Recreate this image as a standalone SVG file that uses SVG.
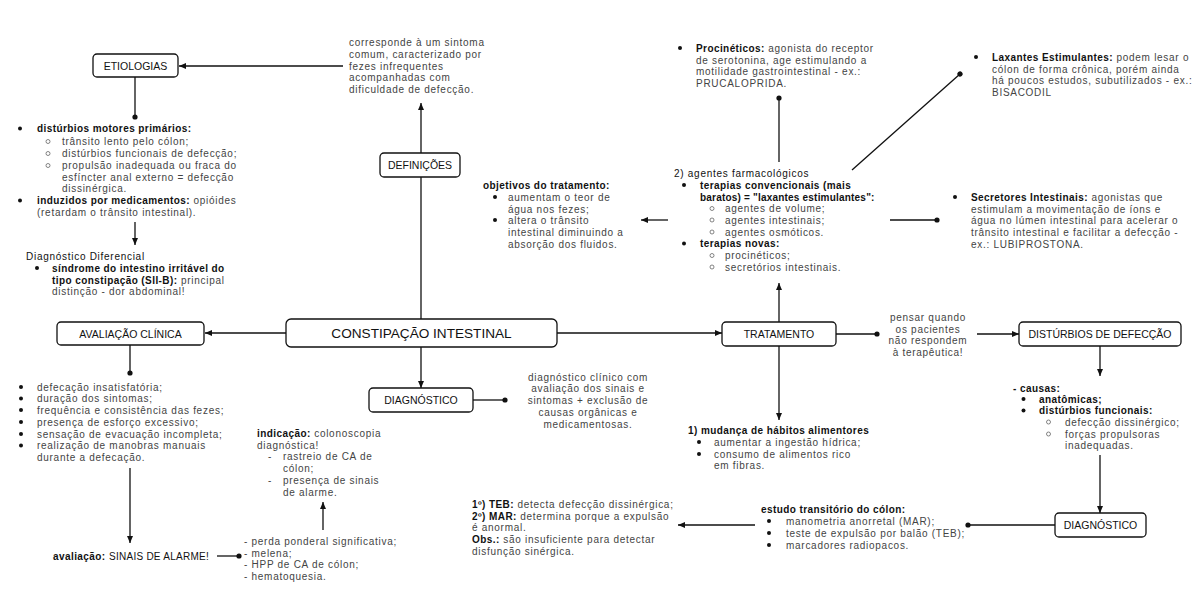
<svg xmlns="http://www.w3.org/2000/svg" width="1200" height="600" viewBox="0 0 1200 600">
<defs>
<style>
.t{font-family:"Liberation Sans",Arial,sans-serif;font-size:10px;letter-spacing:0.72px;fill:#444}
.b{font-weight:bold;letter-spacing:0.42px;fill:#111}
.m{fill:#111}
.cap{letter-spacing:0.25px}
.c{text-anchor:middle}
.bx{fill:#fff;stroke:#111;stroke-width:1.3}
.bl{font-family:"Liberation Sans",Arial,sans-serif;font-size:10.5px;fill:#111;text-anchor:middle}
.big{font-size:13.6px}
.ln{fill:none;stroke:#111;stroke-width:1.3}
.dt{fill:#111}
.oc{fill:none;stroke:#666;stroke-width:0.8}
</style>
<marker id="ar" viewBox="0 0 7 6" refX="7" refY="3" markerWidth="7" markerHeight="6" markerUnits="userSpaceOnUse" orient="auto"><path d="M0,0 L7,3 L0,6 z" fill="#111"/></marker>
<marker id="dot" viewBox="0 0 6 6" refX="3" refY="3" markerWidth="6" markerHeight="6" markerUnits="userSpaceOnUse" orient="auto"><circle cx="3" cy="3" r="2.6" fill="#111"/></marker>
</defs>
<rect width="1200" height="600" fill="#fff"/>

<g id="connectors">
<path class="ln" d="M343,66 H179" marker-end="url(#ar)"/>
<path class="ln" d="M135,77 V117" marker-end="url(#dot)"/>
<path class="ln" d="M135,222 V245" marker-end="url(#ar)"/>
<path class="ln" d="M286,333 H205" marker-end="url(#ar)"/>
<path class="ln" d="M130,345 V373" marker-end="url(#dot)"/>
<path class="ln" d="M130,468 V543" marker-end="url(#ar)"/>
<path class="ln" d="M217,556 H239" marker-end="url(#dot)"/>
<path class="ln" d="M323,530 V502" marker-end="url(#ar)"/>
<path class="ln" d="M421,319 V177"/>
<path class="ln" d="M421,153 V103" marker-end="url(#ar)"/>
<path class="ln" d="M421,347 V388" marker-end="url(#ar)"/>
<path class="ln" d="M473,400 H505" marker-end="url(#dot)"/>
<path class="ln" d="M557,333 H722" marker-end="url(#ar)"/>
<path class="ln" d="M836,334 H877" marker-end="url(#dot)"/>
<path class="ln" d="M977,334 H1019" marker-end="url(#ar)"/>
<path class="ln" d="M1100,346 V376" marker-end="url(#ar)"/>
<path class="ln" d="M1100,455 V513" marker-end="url(#ar)"/>
<path class="ln" d="M1055,525 H968" marker-end="url(#dot)"/>
<path class="ln" d="M755,525 H678" marker-end="url(#ar)"/>
<path class="ln" d="M779,346 V420" marker-end="url(#ar)"/>
<path class="ln" d="M779,322 V283" marker-end="url(#ar)"/>
<path class="ln" d="M779,162 V98" marker-end="url(#dot)"/>
<path class="ln" d="M852,170 L960,74" marker-end="url(#dot)"/>
<path class="ln" d="M890,220 H937" marker-end="url(#dot)"/>
<path class="ln" d="M668,220 H641" marker-end="url(#ar)"/>
</g>

<g id="n-central">
<rect class="bx" x="286" y="319" width="271" height="28" rx="5"/>
<text class="bl big" x="421.5" y="338">CONSTIPAÇÃO INTESTINAL</text>
</g>

<g id="n-etiologias">
<rect class="bx" x="93" y="54" width="85" height="23" rx="4"/>
<text class="bl" x="135.5" y="69.5">ETIOLOGIAS</text>
</g>

<g id="n-etiologias-texto">
<circle class="dt" cx="20" cy="128.5" r="2"/>
<text class="t b" x="37" y="132">distúrbios motores primários:</text>
<circle class="oc" cx="48" cy="141.5" r="2"/>
<text class="t" x="62" y="145">trânsito lento pelo cólon;</text>
<circle class="oc" cx="48" cy="153.5" r="2"/>
<text class="t" x="62" y="157">distúrbios funcionais de defecção;</text>
<circle class="oc" cx="48" cy="165.5" r="2"/>
<text class="t" x="62" y="169">propulsão inadequada ou fraca do</text>
<text class="t" x="62" y="180.5">esfíncter anal externo = defecção</text>
<text class="t" x="62" y="192">dissinérgica.</text>
<circle class="dt" cx="20" cy="200.5" r="2"/>
<text class="t" x="37" y="204"><tspan class="b">induzidos por medicamentos:</tspan> opióides</text>
<text class="t" x="37" y="216">(retardam o trânsito intestinal).</text>
</g>

<g id="n-diag-diferencial">
<text class="t m" x="26" y="260">Diagnóstico Diferencial</text>
<circle class="dt" cx="37" cy="268" r="2"/>
<text class="t b" x="52" y="271.5">síndrome do intestino irritável do</text>
<text class="t" x="52" y="283.5"><tspan class="b">tipo constipação (SII-B):</tspan> principal</text>
<text class="t" x="52" y="295">distinção - dor abdominal!</text>
</g>

<g id="n-definicoes">
<rect class="bx" x="380" y="153" width="80" height="24" rx="4"/>
<text class="bl" x="420" y="169">DEFINIÇÕES</text>
</g>

<g id="n-definicao-texto">
<text class="t" x="349" y="45.5">corresponde à um sintoma</text>
<text class="t" x="349" y="57.5">comum, caracterizado por</text>
<text class="t" x="349" y="69.5">fezes infrequentes</text>
<text class="t" x="349" y="81">acompanhadas com</text>
<text class="t" x="349" y="93">dificuldade de defecção.</text>
</g>

<g id="n-avaliacao">
<rect class="bx" x="57" y="322" width="147" height="23" rx="4"/>
<text class="bl" x="130.5" y="337.5">AVALIAÇÃO CLÍNICA</text>
</g>

<g id="n-avaliacao-texto">
<circle class="dt" cx="21" cy="387" r="2"/>
<text class="t" x="37" y="390.5">defecação insatisfatória;</text>
<circle class="dt" cx="21" cy="398.5" r="2"/>
<text class="t" x="37" y="402">duração dos sintomas;</text>
<circle class="dt" cx="21" cy="410" r="2"/>
<text class="t" x="37" y="413.5">frequência e consistência das fezes;</text>
<circle class="dt" cx="21" cy="422" r="2"/>
<text class="t" x="37" y="425.5">presença de esforço excessivo;</text>
<circle class="dt" cx="21" cy="434" r="2"/>
<text class="t" x="37" y="437.5">sensação de evacuação incompleta;</text>
<circle class="dt" cx="21" cy="445.5" r="2"/>
<text class="t" x="37" y="449">realização de manobras manuais</text>
<text class="t" x="37" y="460.5">durante a defecação.</text>
</g>

<g id="n-alarme">
<text class="t" x="53" y="559.5"><tspan class="b">avaliação:</tspan> <tspan class="m cap">SINAIS DE ALARME!</tspan></text>
</g>

<g id="n-alarme-lista">
<text class="t" x="244" y="544.5">- perda ponderal significativa;</text>
<text class="t" x="244" y="556.5">- melena;</text>
<text class="t" x="244" y="568">- HPP de CA de cólon;</text>
<text class="t" x="244" y="580">- hematoquesia.</text>
</g>

<g id="n-indicacao">
<text class="t" x="257" y="436.5"><tspan class="b">indicação:</tspan> colonoscopia</text>
<text class="t" x="257" y="448.5">diagnóstica!</text>
<text class="t" x="268" y="460">-</text>
<text class="t" x="283" y="460">rastreio de CA de</text>
<text class="t" x="283" y="472">cólon;</text>
<text class="t" x="268" y="483.5">-</text>
<text class="t" x="283" y="483.5">presença de sinais</text>
<text class="t" x="283" y="495.5">de alarme.</text>
</g>

<g id="n-diagnostico">
<rect class="bx" x="369" y="388" width="104" height="24" rx="4"/>
<text class="bl" x="421" y="404">DIAGNÓSTICO</text>
</g>

<g id="n-diagnostico-texto">
<text class="t c" x="588" y="380.5">diagnóstico clínico com</text>
<text class="t c" x="588" y="392">avaliação dos sinais e</text>
<text class="t c" x="588" y="404">sintomas + exclusão de</text>
<text class="t c" x="588" y="415.5">causas orgânicas e</text>
<text class="t c" x="588" y="427.5">medicamentosas.</text>
</g>

<g id="n-tratamento">
<rect class="bx" x="722" y="322" width="114" height="24" rx="4"/>
<text class="bl" x="779" y="338">TRATAMENTO</text>
</g>

<g id="n-pensar">
<text class="t c" x="928" y="320.5">pensar quando</text>
<text class="t c" x="928" y="332.5">os pacientes</text>
<text class="t c" x="928" y="344">não respondem</text>
<text class="t c" x="928" y="356">à terapêutica!</text>
</g>

<g id="n-disturbios">
<rect class="bx" x="1019" y="322" width="162" height="24" rx="4"/>
<text class="bl" x="1100" y="338">DISTÚRBIOS DE DEFECÇÃO</text>
</g>

<g id="n-causas">
<text class="t b" x="1013" y="391.5">- causas:</text>
<circle class="dt" cx="1023.5" cy="399" r="2"/>
<text class="t b" x="1039" y="402.5">anatômicas;</text>
<circle class="dt" cx="1023.5" cy="410.5" r="2"/>
<text class="t b" x="1039" y="414">distúrbios funcionais:</text>
<circle class="oc" cx="1048.5" cy="422" r="2"/>
<text class="t" x="1065" y="425.5">defecção dissinérgico;</text>
<circle class="oc" cx="1048.5" cy="434" r="2"/>
<text class="t" x="1065" y="437.5">forças propulsoras</text>
<text class="t" x="1065" y="449">inadequadas.</text>
</g>

<g id="n-diagnostico2">
<rect class="bx" x="1055" y="513" width="91" height="24" rx="4"/>
<text class="bl" x="1100.5" y="529">DIAGNÓSTICO</text>
</g>

<g id="n-estudo">
<text class="t b" x="761" y="513">estudo transitório do cólon:</text>
<circle class="dt" cx="769" cy="521" r="2"/>
<text class="t" x="786" y="524.5">manometria anorretal (MAR);</text>
<circle class="dt" cx="769" cy="533" r="2"/>
<text class="t" x="786" y="536.5">teste de expulsão por balão (TEB);</text>
<circle class="dt" cx="769" cy="545" r="2"/>
<text class="t" x="786" y="548.5">marcadores radiopacos.</text>
</g>

<g id="n-teb-mar">
<text class="t" x="472" y="507.5"><tspan class="b">1º) TEB:</tspan> detecta defecção dissinérgica;</text>
<text class="t" x="472" y="519.5"><tspan class="b">2º) MAR:</tspan> determina porque a expulsão</text>
<text class="t" x="472" y="531">é anormal.</text>
<text class="t" x="472" y="543"><tspan class="b">Obs.:</tspan> são insuficiente para detectar</text>
<text class="t" x="472" y="554.5">disfunção sinérgica.</text>
</g>

<g id="n-habitos">
<text class="t b" x="688" y="433.5">1) mudança de hábitos alimentores</text>
<circle class="dt" cx="699" cy="442" r="2"/>
<text class="t" x="714" y="445.5">aumentar a ingestão hídrica;</text>
<circle class="dt" cx="699" cy="454" r="2"/>
<text class="t" x="714" y="457.5">consumo de alimentos rico</text>
<text class="t" x="714" y="469">em fibras.</text>
</g>

<g id="n-farmacologicos">
<text class="t m" x="674" y="176.5">2) agentes farmacológicos</text>
<circle class="dt" cx="684" cy="185" r="2"/>
<text class="t b" x="700" y="188.5">terapias convencionais (mais</text>
<text class="t b" x="700" y="200.5" style="letter-spacing:0.2px">baratos) = "laxantes estimulantes":</text>
<circle class="oc" cx="712" cy="208.5" r="2"/>
<text class="t" x="725" y="212">agentes de volume;</text>
<circle class="oc" cx="712" cy="220" r="2"/>
<text class="t" x="725" y="223.5">agentes intestinais;</text>
<circle class="oc" cx="712" cy="232" r="2"/>
<text class="t" x="725" y="235.5">agentes osmóticos.</text>
<circle class="dt" cx="684" cy="243.5" r="2"/>
<text class="t b" x="700" y="247">terapias novas:</text>
<circle class="oc" cx="712" cy="255.5" r="2"/>
<text class="t" x="725" y="259">procinéticos;</text>
<circle class="oc" cx="712" cy="267" r="2"/>
<text class="t" x="725" y="270.5">secretórios intestinais.</text>
</g>

<g id="n-procineticos">
<circle class="dt" cx="680" cy="48" r="2"/>
<text class="t" x="696" y="51.5"><tspan class="b">Procinéticos:</tspan> agonista do receptor</text>
<text class="t" x="696" y="63.5">de serotonina, age estimulando a</text>
<text class="t" x="696" y="75">motilidade gastrointestinal - ex.:</text>
<text class="t" x="696" y="87">PRUCALOPRIDA.</text>
</g>

<g id="n-laxantes">
<circle class="dt" cx="976" cy="57" r="2"/>
<text class="t" x="992" y="60.5"><tspan class="b">Laxantes Estimulantes:</tspan> podem lesar o</text>
<text class="t" x="992" y="72.5">cólon de forma crônica, porém ainda</text>
<text class="t" x="992" y="84">há poucos estudos, subutilizados - ex.:</text>
<text class="t" x="992" y="96">BISACODIL</text>
</g>

<g id="n-secretores">
<circle class="dt" cx="955" cy="197" r="2"/>
<text class="t" x="971" y="200.5"><tspan class="b">Secretores Intestinais:</tspan> agonistas que</text>
<text class="t" x="971" y="212.5">estimulam a movimentação de íons e</text>
<text class="t" x="971" y="224">água no lúmen intestinal para acelerar o</text>
<text class="t" x="971" y="236">trânsito intestinal e facilitar a defecção -</text>
<text class="t" x="971" y="247.5">ex.: LUBIPROSTONA.</text>
</g>

<g id="n-objetivos">
<text class="t b" x="483" y="188.5">objetivos do tratamento:</text>
<circle class="dt" cx="495" cy="197" r="2"/>
<text class="t" x="508" y="200.5">aumentam o teor de</text>
<text class="t" x="508" y="212.5">água nos fezes;</text>
<circle class="dt" cx="495" cy="220" r="2"/>
<text class="t" x="508" y="224">altera o trânsito</text>
<text class="t" x="508" y="236">intestinal diminuindo a</text>
<text class="t" x="508" y="247.5">absorção dos fluidos.</text>
</g>
</svg>
